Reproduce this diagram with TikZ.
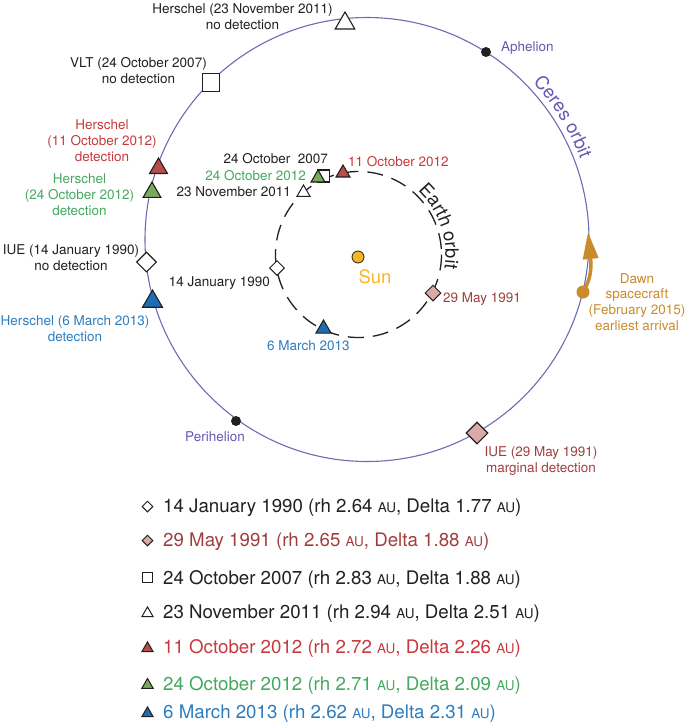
\documentclass[tikz,border=0pt]{standalone}
\usepackage{fontspec}
\setmainfont{TeX Gyre Heros}
\usetikzlibrary{shapes.geometric,arrows.meta,decorations.text,calc}
\definecolor{ink}{HTML}{231F20}
\definecolor{cpurple}{HTML}{6F6AB5}
\definecolor{ptext}{HTML}{6A55B2}
\definecolor{redtext}{HTML}{C8383C}
\definecolor{redfill}{HTML}{B84C46}
\definecolor{greentext}{HTML}{45A860}
\definecolor{greenfill}{HTML}{7AAB5C}
\definecolor{bluetext}{HTML}{2B7DC0}
\definecolor{bluefill}{HTML}{1B6DB5}
\definecolor{pinkfill}{HTML}{DBA9A8}
\definecolor{darkred}{HTML}{A03E3E}
\definecolor{sunfill}{HTML}{F7B523}
\definecolor{dawncol}{HTML}{C98B2B}
\newcommand{\smallau}{{\fontsize{13.5}{13.5}\selectfont AU}}
\tikzset{
  lbl/.style={inner sep=0pt, align=center, anchor=base, font=\fontsize{13.5}{16}\selectfont, text=ink},
  leg/.style={inner sep=0pt, anchor=base west, font=\fontsize{18.7}{20}\selectfont, text=ink},
  mk/.style={draw=ink, line width=1.1pt, inner sep=0pt, fill=white},
  trimk/.style={mk, regular polygon, regular polygon sides=3, minimum size=#1},
  sqmk/.style={mk, rectangle, minimum size=#1},
  dimk/.style={mk, diamond, minimum width=#1, minimum height=#1},
  dotmk/.style={circle, fill=ink, inner sep=0pt, minimum size=10pt},
  orbitline/.style={draw=cpurple, line width=1.1pt},
  earthline/.style={draw=ink, line width=1.3pt, dash pattern=on 16pt off 9pt},
}
\begin{document}
\begin{tikzpicture}[x=1pt,y=-1pt]
\useasboundingbox (0,0) rectangle (685,724);
\coordinate (ccen) at (367,239.5);
\coordinate (ecen) at (358.5,254.5);
% orbits
\draw[orbitline] (ccen) circle[radius=222];
\draw[earthline] (ecen) circle[radius=83];
% curved labels
\path[decorate, decoration={text along path, text align=center, text color=ptext,
  text={|\fontsize{18.5}{18.5}\selectfont|Ceres orbit}}]
  ($(ccen)+(-52:228)$) arc[start angle=-52, end angle=-12, radius=228];
\path[decorate, decoration={text along path, text align=center, text color=ink,
  text={|\fontsize{18.5}{18.5}\selectfont|Earth orbit}}]
  ($(ecen)+(-64:87)$) arc[start angle=-64, end angle=26, radius=87];
% Ceres orbit markers
\node[trimk=22.6] (m23) at (345,23.3) {};
\node[sqmk=17.5] (m07) at (211,82.5) {};
\node[trimk=20.6, fill=redfill] (m11) at (158.5,168.3) {};
\node[trimk=20.4, fill=greenfill] (m24) at (152,192.2) {};
\node[dimk=20] (m90) at (146.5,262) {};
\node[trimk=23, fill=bluefill] (m13) at (152.5,301.5) {};
\node[dimk=22, fill=pinkfill] (m91) at (477,433) {};
\node[dotmk] (aph) at (486,52) {};
\node[dotmk] (peri) at (236,421) {};
% Earth orbit markers
\node[sqmk=12] (e07m) at (323.5,176) {};
\node[trimk=16, fill=greenfill] (e12m) at (318,178) {};
\node[trimk=16, fill=redfill] (e11m) at (343,173) {};
\node[trimk=15, line width=1pt] (e23m) at (303.5,192.5) {};
\node[dimk=15, line width=1pt] (e90m) at (277,268) {};
\node[dimk=16, line width=1pt, fill=pinkfill] (e91m) at (433,293) {};
\node[trimk=17.4, fill=bluefill] (e13m) at (323.5,328.7) {};
\node[circle, draw=ink, line width=0.8pt, fill=sunfill, inner sep=0pt, minimum size=12pt] (sun) at (358,257) {};
% Dawn
\node[circle, fill=dawncol, inner sep=0pt, minimum size=13pt] (dawn) at (583,292) {};
\coordinate (dawntip) at (588,232);
\draw[dawncol, line width=3.5pt, -{Triangle[length=27pt,width=15pt]}]
  (dawn.center) .. controls (589,282) and (592,272) .. (dawntip);
% Labels around Ceres orbit (base = last line)
\node[lbl] (l23) at (242.5,29) {Herschel (23 November 2011)\\no detection};
\node[lbl] (l07) at (138.5,83.5) {VLT (24 October 2007)\\no detection};
\node[lbl, text=redtext] (l11) at (102,161) {Herschel\\(11 October 2012)\\detection};
\node[lbl, text=greentext] (l24) at (79.5,215) {Herschel\\(24 October 2012)\\detection};
\node[lbl] (l90) at (71,270) {IUE (14 January 1990)\\no detection};
\node[lbl, text=bluetext] (l13) at (75,341.7) {Herschel (6 March 2013)\\detection};
\node[lbl, text=ptext] (lperi) at (215,441) {Perihelion};
\node[lbl, text=ptext, anchor=base west] (laph) at (501,51.7) {Aphelion};
\node[lbl, text=darkred] (l91) at (541,472) {IUE (29 May 1991)\\marginal detection};
\node[lbl, text=dawncol, font=\fontsize{13.5}{15.8}\selectfont] (ldawn) at (637,330.4) {Dawn\\spacecraft\\(February 2015)\\earliest arrival};
% Labels around Earth orbit
\node[lbl, text=redtext, anchor=base west] (le11) at (348,166) {11 October 2012};
\node[lbl, anchor=base east] (le07) at (328,163) {24 October\ \ 2007};
\node[lbl, text=greentext, anchor=base east] (le12) at (306,180) {24 October 2012};
\node[lbl, anchor=base east] (le23) at (291,196) {23 November 2011};
\node[lbl, anchor=base east] (le90) at (270,286) {14 January 1990};
\node[lbl, text=bluetext, anchor=base west] (le13) at (267,350) {6 March 2013};
\node[lbl, text=darkred, anchor=base west] (le91) at (443,302) {29 May 1991};
\node[lbl, text=sunfill, font=\fontsize{18.5}{20}\selectfont] (lsun) at (375,283) {Sun};
% Legend
\node[dimk=11, line width=1pt] (k1) at (147.5,506.5) {};
\node[dimk=11, line width=1pt, fill=pinkfill] (k2) at (147.5,540.5) {};
\node[sqmk=10.5, line width=1pt] (k3) at (147.5,577.5) {};
\node[trimk=13, line width=1pt] (k4) at (147.5,613.4) {};
\node[trimk=13, line width=1pt, fill=redfill] (k5) at (147.5,648.4) {};
\node[trimk=13, line width=1pt, fill=greenfill] (k6) at (147.5,685) {};
\node[trimk=13, line width=1pt, fill=bluefill] (k7) at (147.5,713.4) {};
\node[leg] (t1) at (163,512.3) {14 January 1990 (rh 2.64 \smallau, Delta 1.77 \smallau)};
\node[leg, text=darkred] (t2) at (163,546.7) {29 May 1991 (rh 2.65 \smallau, Delta 1.88 \smallau)};
\node[leg] (t3) at (163,584) {24 October 2007 (rh 2.83 \smallau, Delta 1.88 \smallau)};
\node[leg] (t4) at (163,618.3) {23 November 2011 (rh 2.94 \smallau, Delta 2.51 \smallau)};
\node[leg, text=redtext] (t5) at (163,653.3) {11 October 2012 (rh 2.72 \smallau, Delta 2.26 \smallau)};
\node[leg, text=greentext] (t6) at (163,690) {24 October 2012 (rh 2.71 \smallau, Delta 2.09 \smallau)};
\node[leg, text=bluetext] (t7) at (163,718.3) {6 March 2013 (rh 2.62 \smallau, Delta 2.31 \smallau)};
\end{tikzpicture}
\end{document}
